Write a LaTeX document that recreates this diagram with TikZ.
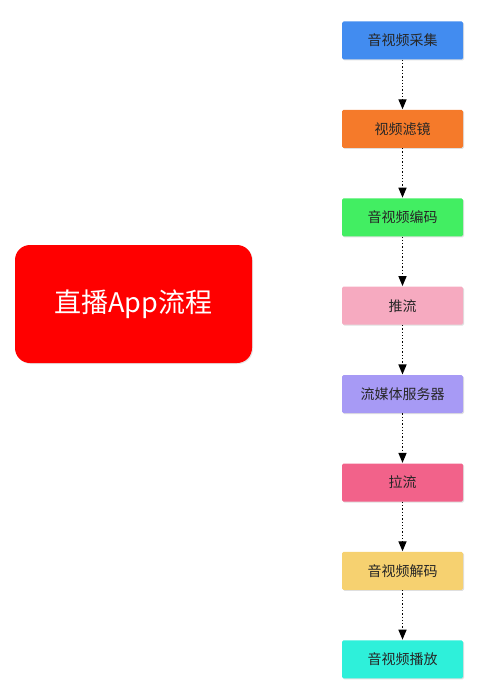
\documentclass[tikz,border=0pt]{standalone}
\usepackage{fontspec}
\setmainfont{Noto Sans CJK SC}
\usepackage{tikz}
\usetikzlibrary{positioning,arrows,shadows}

\definecolor{capblue}{RGB}{66,140,240}
\definecolor{filtorange}{RGB}{245,122,42}
\definecolor{encgreen}{RGB}{66,238,98}
\definecolor{pushpink}{RGB}{246,170,192}
\definecolor{srvlilac}{RGB}{167,154,245}
\definecolor{pullrose}{RGB}{242,98,138}
\definecolor{decyellow}{RGB}{246,209,112}
\definecolor{playcyan}{RGB}{46,240,218}

\tikzset{
  stage/.style={rectangle, rounded corners=1.5pt, minimum width=121pt, minimum height=38pt,
    inner sep=0pt, font=\fontsize{14}{16}\selectfont, text=black!85,
    drop shadow={shadow xshift=1pt, shadow yshift=-1pt, opacity=0.25}},
  flow/.style={->, dotted, line width=1.3pt, shorten >=0.5pt}
}

\begin{document}
\begin{tikzpicture}[x=1pt,y=1pt,node distance=50pt,>=triangle 45]
      \useasboundingbox (0,0) rectangle (491,-693);

      \node[stage, fill=capblue] (capture) at (402.5,-40.5) {音视频采集};
      \node[stage, fill=filtorange, below = of capture] (filter) {视频滤镜};
      \node[stage, fill=encgreen, below = of filter] (encode) {音视频编码};
      \node[stage, fill=pushpink, below = of encode] (push) {推流};
      \node[stage, fill=srvlilac, below = of push] (server) {流媒体服务器};
      \node[stage, fill=pullrose, below = of server] (pull) {拉流};
      \node[stage, fill=decyellow, below = of pull] (decode) {音视频解码};
      \node[stage, fill=playcyan, below = of decode] (play) {音视频播放};

      \node[rectangle, rounded corners=15pt, fill=red, minimum width=237pt, minimum height=118pt,
        font=\fontsize{27}{31}\selectfont, text=white,
        drop shadow={shadow xshift=1pt, shadow yshift=-1pt, opacity=0.2}] (title) at (133.5,-304) {直播App流程};

      \draw[flow] (capture) -- (filter);
      \draw[flow] (filter) -- (encode);
      \draw[flow] (encode) -- (push);
      \draw[flow] (push) -- (server);
      \draw[flow] (server) -- (pull);
      \draw[flow] (pull) -- (decode);
      \draw[flow] (decode) -- (play);
 \end{tikzpicture}
\end{document}
